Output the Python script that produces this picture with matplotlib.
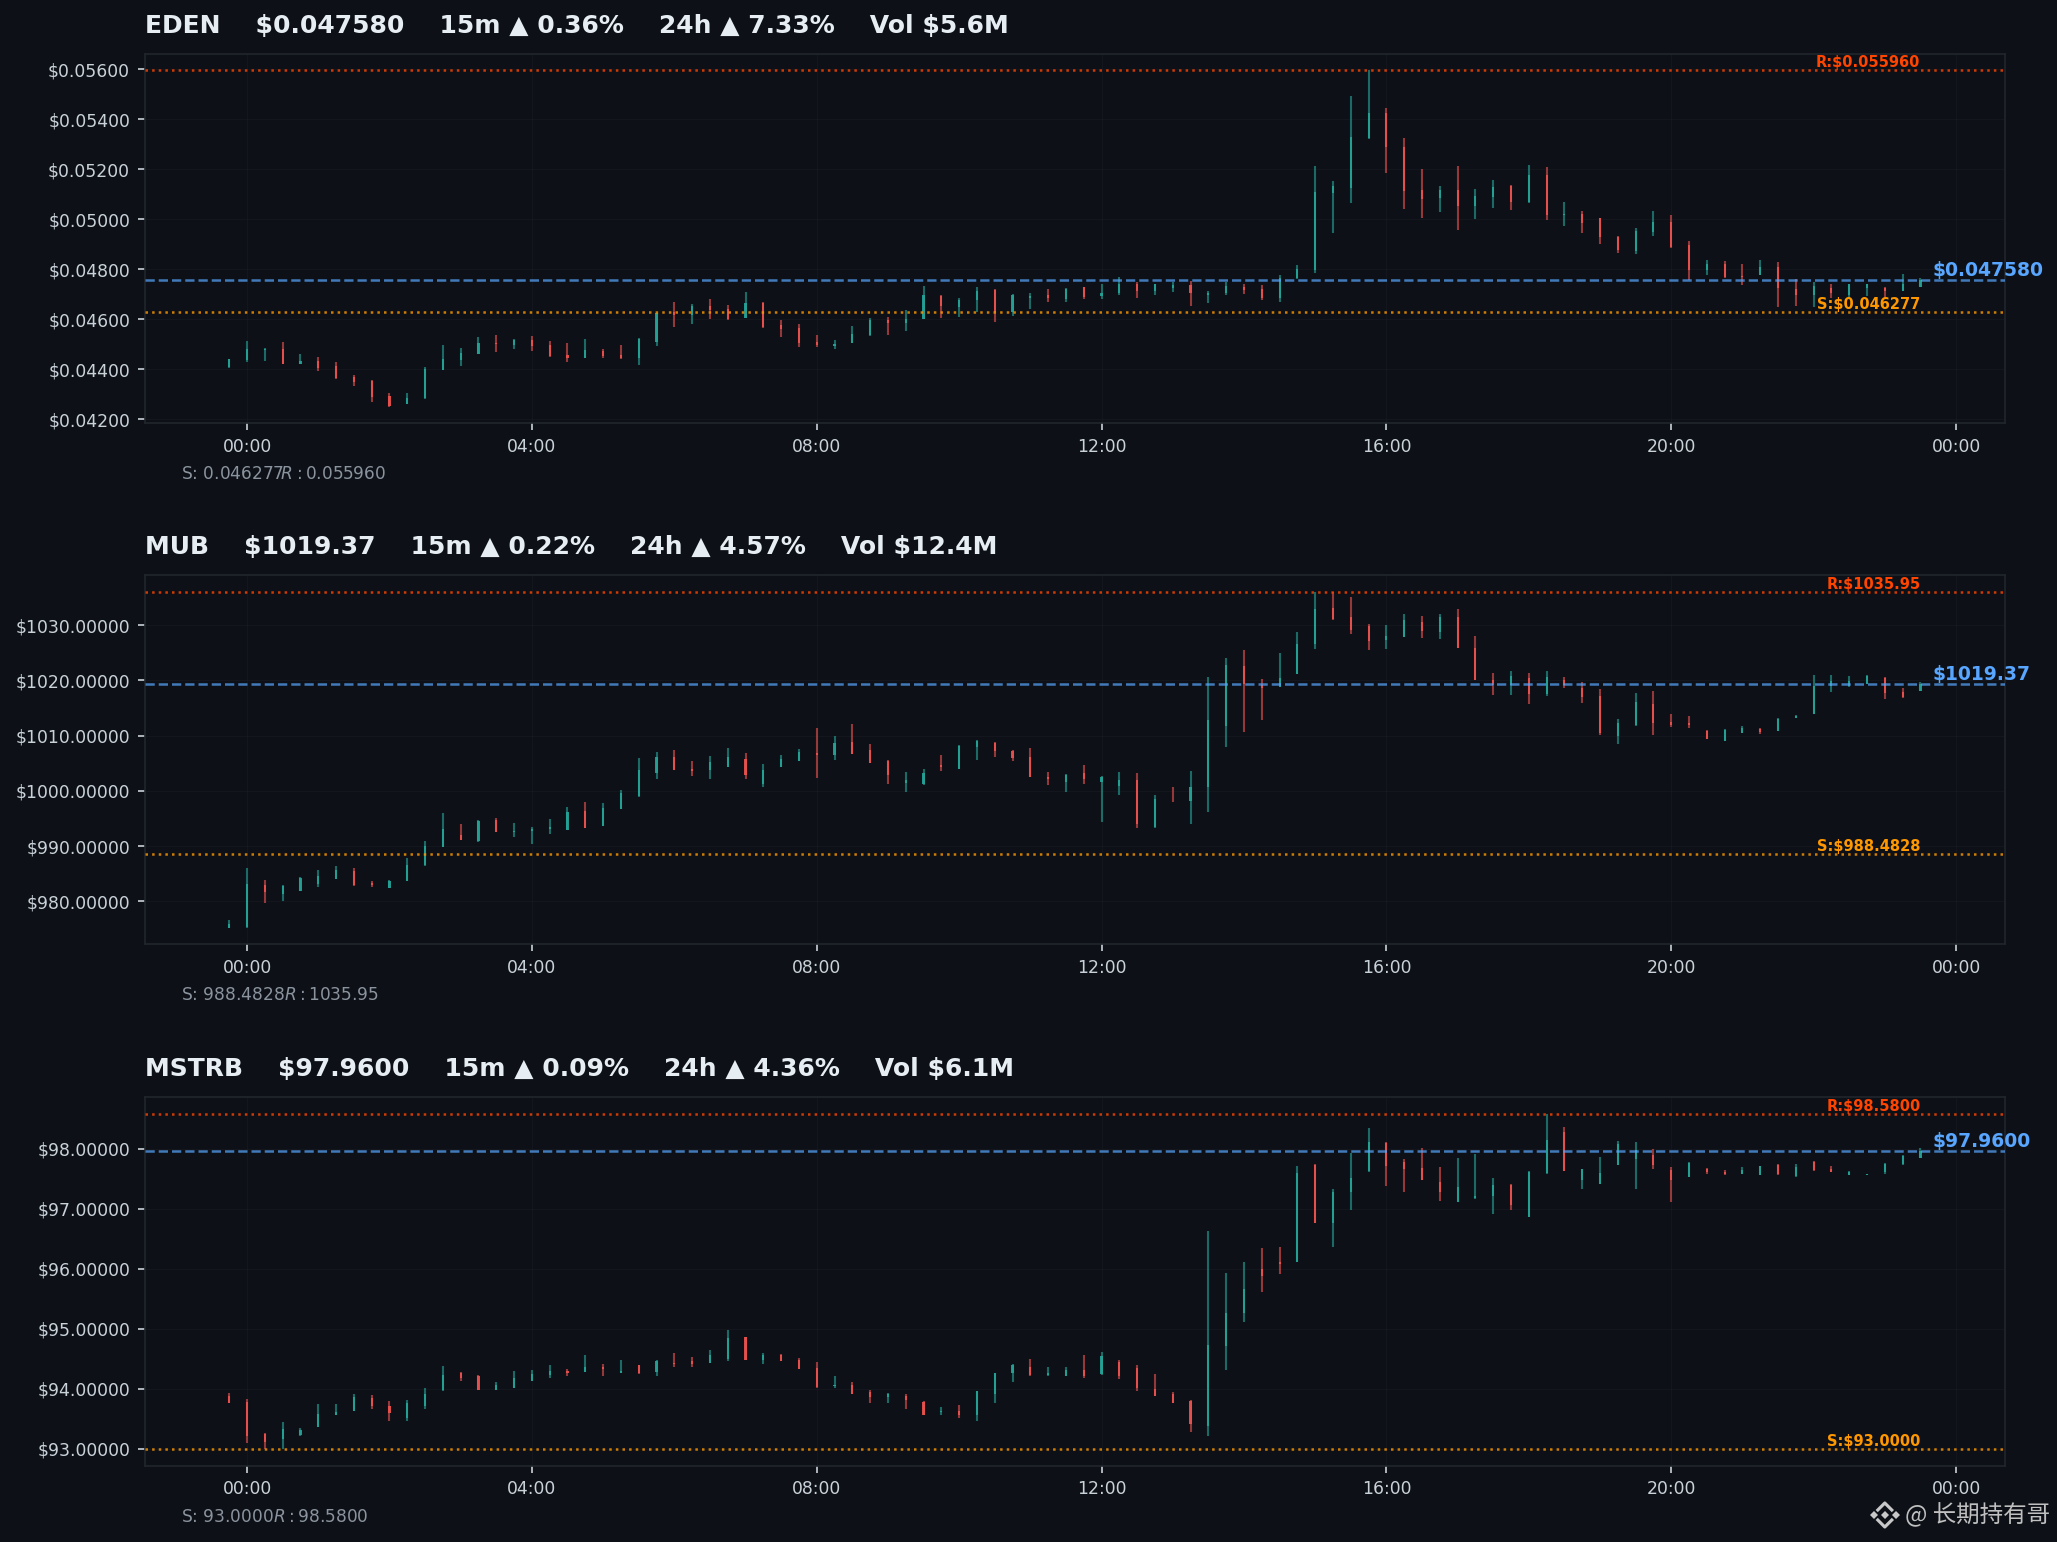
import matplotlib
matplotlib.use("Agg")
import matplotlib.pyplot as plt
import numpy as np
from matplotlib.lines import Line2D

BG = "#0d1117"
SPINE = "#21262d"
UP = "#26a69a"
DOWN = "#ef5350"
BLUE = "#58a6ff"
RES = "#ff4500"
SUP = "#ff9800"

# candle times, hours from midnight, 15m bars
hours = np.arange(96) * 0.25 - 0.25
xtick_pos = [0, 4, 8, 12, 16, 20, 24]
xtick_labels = ["00:00", "04:00", "08:00", "12:00", "16:00", "20:00", "00:00"]

# EDEN, in thousandths of a dollar
eden_high = np.array([
    44.43,45.12,44.84,45.08,44.60,44.48,44.28,43.76,43.59,43.04,43.04,44.08,
    44.96,44.84,45.28,45.36,45.20,45.32,45.12,45.04,45.20,44.80,44.96,45.24,
    46.23,46.68,46.60,46.80,46.56,47.08,46.68,45.96,45.80,45.36,45.16,45.72,
    46.04,46.08,46.36,47.32,46.96,46.84,47.28,47.20,47.00,47.04,47.20,47.24,
    47.28,47.40,47.68,47.48,47.40,47.48,47.52,47.12,47.48,47.40,47.36,47.76,
    48.16,52.12,51.52,54.92,55.96,54.44,53.24,52.00,51.32,52.12,51.20,51.56,
    51.36,52.16,52.08,50.68,50.32,50.04,49.32,49.64,50.32,50.16,49.12,48.36,
    48.32,48.20,48.36,48.28,47.60,47.48,47.40,47.40,47.40,47.28,47.80,47.64]) / 1000
eden_low = np.array([
    44.05,44.29,44.33,44.21,44.21,43.93,43.61,43.33,42.69,42.49,42.61,42.81,
    43.97,44.13,44.61,44.69,44.81,44.73,44.49,44.29,44.45,44.45,44.41,44.17,
    44.93,45.69,45.81,46.01,45.97,46.05,45.65,45.29,44.89,44.89,44.81,45.05,
    45.33,45.37,45.53,45.99,46.05,46.09,46.29,45.89,46.13,46.41,46.69,46.69,
    46.81,46.81,46.97,46.85,46.97,47.09,46.53,46.65,46.97,47.01,46.77,46.69,
    47.59,47.85,49.45,50.65,53.21,51.85,50.41,50.05,50.29,49.57,50.01,50.45,
    50.37,50.65,49.97,49.73,49.45,49.01,48.65,48.61,49.33,48.85,47.57,47.77,
    47.64,47.37,47.77,46.49,46.53,46.49,46.85,46.85,46.93,46.83,47.12,47.28]) / 1000
eden_open = np.array([
    44.09,44.36,44.76,44.80,44.21,44.32,44.12,43.68,43.52,42.92,42.61,42.84,
    43.97,44.36,44.61,45.05,44.96,45.16,44.96,44.56,44.45,44.72,44.56,44.45,
    45.09,46.29,46.16,46.52,46.40,46.05,46.64,45.76,45.64,45.08,44.92,45.05,
    45.36,45.96,45.84,45.99,46.92,46.48,46.76,47.16,46.29,46.85,46.96,46.79,
    47.28,46.92,47.04,47.40,47.12,47.23,47.36,46.97,47.04,47.28,47.20,46.85,
    47.63,47.95,51.04,51.25,53.25,54.24,52.88,51.16,50.84,51.16,50.53,50.89,
    51.33,50.68,51.76,50.17,50.20,50.04,49.28,48.73,49.48,49.88,48.96,47.97,
    48.20,47.72,47.77,48.08,47.20,46.96,47.24,46.96,47.23,47.24,47.12,47.28]) / 1000
eden_close = np.array([
    44.43,44.80,44.81,44.21,44.32,44.07,43.64,43.48,42.89,42.52,42.84,44.00,
    44.40,44.64,45.04,45.00,45.16,44.92,44.52,44.45,44.76,44.52,44.45,45.20,
    46.23,46.16,46.52,46.36,46.01,46.64,45.69,45.61,45.05,44.96,45.00,45.40,
    45.96,45.84,46.00,46.96,46.53,46.76,47.12,46.29,46.96,46.92,46.85,47.22,
    46.89,47.03,47.40,47.13,47.39,47.36,47.04,47.04,47.32,47.16,46.83,47.64,
    48.00,51.08,51.32,53.28,54.24,52.89,51.12,50.80,51.16,50.53,50.92,51.28,
    50.69,51.76,50.17,50.22,49.84,49.28,48.77,49.52,49.88,48.89,47.97,48.20,
    47.68,47.68,48.08,47.25,46.96,47.32,47.04,47.39,47.39,47.13,47.40,47.58]) / 1000

# MUB
mub_high = [
    976.56,985.98,983.80,982.90,984.35,985.62,986.34,985.98,983.62,983.80,987.79,990.87,
    995.94,993.95,994.67,995.04,994.13,993.41,994.86,997.03,997.94,997.75,1000.11,1005.91,
    1006.99,1007.36,1005.36,1006.27,1007.72,1006.81,1004.82,1006.45,1007.54,1011.34,1009.89,1012.07,
    1008.44,1005.54,1003.37,1003.91,1006.45,1008.26,1009.17,1008.81,1007.36,1007.72,1003.37,1003.01,
    1004.64,1002.65,1003.37,1003.19,999.20,1000.65,1003.55,1020.58,1024.02,1025.47,1020.22,1024.93,
    1028.73,1035.95,1035.95,1035.08,1030.18,1030.00,1032.00,1031.63,1032.00,1032.90,1028.01,1021.31,
    1021.67,1021.31,1021.67,1020.58,1019.68,1018.41,1012.97,1017.68,1018.05,1013.88,1013.52,1010.98,
    1011.16,1011.70,1011.34,1013.15,1013.70,1020.94,1020.94,1020.76,1020.94,1020.58,1018.59,1019.68]
mub_low = [
    975.17,975.17,979.70,980.06,981.87,982.60,983.99,982.78,982.60,982.42,983.62,986.40,
    989.84,991.11,990.75,992.56,991.66,990.39,992.20,992.92,993.29,993.65,996.73,998.90,
    1002.16,1003.79,1002.71,1002.16,1004.34,1002.16,1000.71,1004.34,1005.42,1002.34,1005.61,1006.69,
    1005.06,1001.26,999.81,1001.08,1003.61,1003.97,1005.61,1006.15,1005.42,1002.53,1001.08,999.81,
    1001.26,994.37,999.26,993.29,993.29,998.00,994.01,996.18,1007.96,1010.68,1012.85,1018.83,
    1021.19,1025.72,1030.97,1028.43,1025.53,1025.72,1027.89,1027.71,1027.53,1025.90,1020.10,1017.38,
    1017.38,1015.69,1017.20,1018.65,1015.93,1010.13,1008.50,1011.77,1010.13,1011.58,1011.40,1009.41,
    1009.05,1010.50,1010.32,1010.86,1013.21,1013.94,1017.92,1018.83,1019.37,1016.66,1016.84,1018.11]
mub_open = [
    975.23,975.29,982.90,981.33,981.87,983.14,984.05,985.44,983.26,982.48,983.68,986.52,
    989.84,991.96,990.93,994.67,992.50,992.68,993.04,992.92,996.31,993.65,996.73,999.02,
    1003.19,1006.09,1003.91,1003.73,1004.34,1005.73,1001.26,1004.34,1005.42,1006.93,1006.45,1008.81,
    1007.36,1005.36,1001.44,1001.26,1004.64,1003.97,1007.96,1008.62,1007.18,1006.09,1002.46,1001.56,
    1003.19,1001.62,1000.90,1001.92,993.41,998.60,998.12,1000.71,1011.77,1022.57,1019.13,1018.83,
    1021.19,1026.62,1033.08,1031.45,1029.82,1027.35,1027.89,1030.55,1028.73,1031.45,1025.84,1020.04,
    1019.13,1020.40,1017.50,1020.04,1018.59,1017.14,1009.95,1011.95,1015.69,1012.43,1012.25,1010.80,
    1009.05,1010.50,1011.16,1010.86,1013.21,1013.94,1018.95,1018.95,1019.37,1020.40,1017.86,1018.11]
mub_close = [
    975.95,983.08,981.69,982.72,984.29,984.53,985.62,982.90,982.90,983.62,986.52,989.96,
    993.04,991.11,994.55,992.56,992.80,993.04,993.41,996.12,993.29,996.85,999.57,1003.73,
    1006.09,1003.79,1003.55,1005.18,1006.09,1002.89,1003.73,1005.73,1006.99,1006.45,1008.62,1006.69,
    1005.06,1002.89,1001.92,1003.19,1004.34,1008.08,1009.05,1007.18,1005.97,1002.53,1002.16,1002.83,
    1002.10,1002.46,1001.92,994.01,998.60,998.48,1000.65,1012.79,1022.76,1019.31,1018.59,1020.40,
    1026.56,1032.90,1031.09,1029.10,1027.16,1028.01,1030.91,1028.92,1031.45,1025.90,1020.10,1019.25,
    1020.76,1017.50,1020.58,1019.13,1016.96,1010.50,1012.25,1016.05,1012.31,1012.01,1012.01,1009.41,
    1010.98,1011.34,1010.62,1013.09,1013.52,1018.95,1019.86,1019.86,1020.76,1017.68,1017.02,1019.37]

# MSTRB
mstrb_high = [
    93.93,93.83,93.27,93.45,93.35,93.75,93.75,93.92,93.90,93.80,93.82,94.02,
    94.38,94.28,94.23,94.12,94.30,94.32,94.40,94.33,94.57,94.42,94.48,94.40,
    94.48,94.60,94.53,94.65,94.98,94.87,94.60,94.58,94.52,94.45,94.22,94.12,
    93.98,93.93,93.92,93.80,93.70,93.73,93.97,94.27,94.42,94.50,94.37,94.37,
    94.57,94.62,94.48,94.40,94.25,93.95,93.82,96.63,95.93,96.12,96.35,96.37,
    97.72,97.75,97.33,97.93,98.35,98.12,97.83,98.02,97.70,97.85,97.92,97.52,
    97.42,97.63,98.58,98.37,97.67,97.87,98.13,98.12,98.00,97.70,97.78,97.68,
    97.65,97.70,97.72,97.75,97.75,97.80,97.72,97.63,97.58,97.77,97.90,98.02]
mstrb_low = [
    93.77,93.10,93.00,93.00,93.21,93.37,93.57,93.63,93.67,93.46,93.47,93.67,
    93.96,94.13,93.99,93.99,94.01,94.13,94.19,94.21,94.28,94.21,94.27,94.25,
    94.21,94.37,94.36,94.44,94.47,94.48,94.41,94.46,94.34,94.01,94.01,93.92,
    93.77,93.77,93.66,93.56,93.57,93.52,93.46,93.76,94.11,94.22,94.21,94.22,
    94.19,94.24,94.17,93.96,93.89,93.76,93.29,93.22,94.32,95.11,95.62,95.92,
    96.11,96.77,96.37,96.99,97.62,97.39,97.29,97.49,97.14,97.11,97.17,96.92,
    96.99,96.87,97.59,97.64,97.34,97.41,97.74,97.34,97.67,97.12,97.54,97.59,
    97.56,97.59,97.56,97.57,97.54,97.64,97.61,97.56,97.57,97.59,97.74,97.85]
mstrb_open = [
    93.88,93.78,93.25,93.16,93.23,93.37,93.57,93.64,93.85,93.72,93.51,93.72,
    93.98,94.27,94.22,93.99,94.02,94.13,94.23,94.29,94.28,94.37,94.27,94.39,
    94.29,94.43,94.47,94.44,94.50,94.86,94.48,94.57,94.48,94.35,94.05,94.07,
    93.95,93.87,93.88,93.78,93.62,93.63,93.57,93.91,94.26,94.37,94.24,94.22,
    94.32,94.25,94.45,94.35,94.00,93.92,93.80,93.39,94.72,95.26,96.00,96.12,
    96.11,97.73,96.77,97.28,97.63,98.10,97.78,97.68,97.45,97.11,97.18,97.21,
    97.40,96.87,97.60,98.28,97.48,97.42,97.74,97.84,97.90,97.65,97.54,97.67,
    97.62,97.59,97.56,97.74,97.55,97.78,97.67,97.56,97.57,97.62,97.75,97.85]
mstrb_close = [
    93.77,93.22,93.12,93.33,93.32,93.58,93.62,93.87,93.71,93.60,93.77,93.92,
    94.23,94.19,93.99,94.07,94.18,94.25,94.30,94.26,94.37,94.33,94.30,94.26,
    94.47,94.41,94.42,94.57,94.85,94.49,94.57,94.47,94.34,94.04,94.07,93.92,
    93.87,93.92,93.81,93.57,93.63,93.57,93.96,94.26,94.40,94.23,94.27,94.31,
    94.22,94.55,94.21,94.01,93.89,93.77,93.41,94.73,95.27,95.67,95.89,96.09,
    97.60,96.77,97.28,97.52,98.12,97.72,97.67,97.49,97.28,97.37,97.22,97.40,
    97.06,97.62,98.15,97.64,97.66,97.60,98.08,97.98,97.74,97.48,97.77,97.62,
    97.58,97.65,97.71,97.58,97.70,97.65,97.62,97.62,97.58,97.75,97.88,97.96]

eden_ticks = [0.042, 0.044, 0.046, 0.048, 0.050, 0.052, 0.054, 0.056]
mub_ticks = [980, 990, 1000, 1010, 1020, 1030]
mstrb_ticks = [93, 94, 95, 96, 97, 98]

panels = [
    dict(title=r"EDEN    \$0.047580    15m ▲ 0.36%    24h ▲ 7.33%    Vol \$5.6M",
         o=eden_open, h=eden_high, l=eden_low, c=eden_close, ticks=eden_ticks, ylim=(0.041853, 0.0566),
         price=0.04758, sup=0.046277, res=0.05596, price_txt=r"\$0.047580",
         sup_txt=r"S:\$0.046277", res_txt=r"R:\$0.055960", note="S: $0.046277  R: $0.055960"),
    dict(title=r"MUB    \$1019.37    15m ▲ 0.22%    24h ▲ 4.57%    Vol \$12.4M",
         o=mub_open, h=mub_high, l=mub_low, c=mub_close, ticks=mub_ticks, ylim=(972.27, 1039.1),
         price=1019.37, sup=988.4828, res=1035.95, price_txt=r"\$1019.37",
         sup_txt=r"S:\$988.4828", res_txt=r"R:\$1035.95", note="S: $988.4828  R: $1035.95"),
    dict(title=r"MSTRB    \$97.9600    15m ▲ 0.09%    24h ▲ 4.36%    Vol \$6.1M",
         o=mstrb_open, h=mstrb_high, l=mstrb_low, c=mstrb_close, ticks=mstrb_ticks, ylim=(92.72, 98.87),
         price=97.96, sup=93.0, res=98.58, price_txt=r"\$97.9600",
         sup_txt=r"S:\$93.0000", res_txt=r"R:\$98.5800", note="S: $93.0000  R: $98.5800"),
]

W, H = 2057, 1542
fig = plt.figure(figsize=(W / 150, H / 150), dpi=150, facecolor=BG)
tops = [54, 575, 1096.7]
ax_h = 369

for p, top in zip(panels, tops):
    ax = fig.add_axes([144.7 / W, 1 - (top + ax_h) / H, 1860.3 / W, ax_h / H], facecolor=BG)
    o, c = np.array(p["o"]), np.array(p["c"])
    cols = [UP if b >= a else DOWN for a, b in zip(o, c)]
    ax.vlines(hours, p["l"], p["h"], colors=cols, linewidth=1.0, alpha=0.6, zorder=2)
    ax.bar(hours, np.abs(c - o), bottom=np.minimum(o, c), width=0.03, color=cols, linewidth=0, zorder=3, alpha=0.9)

    ax.axhline(p["res"], color=RES, linestyle=":", linewidth=1.2, alpha=0.8, zorder=4)
    ax.axhline(p["sup"], color=SUP, linestyle=":", linewidth=1.2, alpha=0.8, zorder=4)
    ax.axhline(p["price"], color=BLUE, linestyle="--", linewidth=1.2, alpha=0.7, zorder=4)
    ax.text(hours[-1], p["res"], p["res_txt"], color=RES, fontsize=7, fontweight="bold", ha="right", va="bottom", zorder=5)
    ax.text(hours[-1], p["sup"], p["sup_txt"], color=SUP, fontsize=7, fontweight="bold", ha="right", va="bottom", zorder=5)
    ax.text(hours[-1] + 0.17, p["price"], p["price_txt"], color=BLUE, fontsize=9, fontweight="bold", ha="left", va="bottom", zorder=5)

    ax.set_xlim(-1.4375, 24.6875)
    ax.set_ylim(*p["ylim"])
    ax.set_xticks(xtick_pos)
    ax.set_xticklabels(xtick_labels)
    ax.set_yticks(p["ticks"])
    ax.set_yticklabels(["$%.5f" % t for t in p["ticks"]])
    ax.tick_params(colors="#c9d1d9", labelsize=8.3)
    ax.grid(True, color="#21262d", linewidth=0.5, alpha=0.3)
    ax.set_axisbelow(True)
    for s in ax.spines.values():
        s.set_color(SPINE)
    ax.set_title(p["title"], loc="left", color="#e6edf3", fontsize=12, fontweight="bold", pad=10)
    ax.text(0.0195, -0.138, p["note"], transform=ax.transAxes, color="#8b949e", fontsize=8.2, va="center", ha="left")

# watermark: the small logo and the handle
logo_x, logo_y = 1884.8, H - 1515
for dx, dy in [(11, 0), (-11, 0), (0, 0)]:
    fig.add_artist(Line2D([(logo_x + dx) / W], [(logo_y + dy) / H], marker="D", markersize=2.6, color="#c8c8c8",
                          markeredgewidth=0, linestyle="none", transform=fig.transFigure))
for sign in (1, -1):
    xs = [(logo_x + d) / W for d in (-7, 0, 7)]
    ys = [(logo_y + sign * d) / H for d in (5, 12, 5)]
    fig.add_artist(Line2D(xs, ys, color="#c8c8c8", linewidth=1.5, transform=fig.transFigure))
fig.text(1905 / W, 1 - 1515 / H, "@ 长期持有哥", color="#c0c0c0", fontsize=11.3, va="center", ha="left",
         family=["Noto Sans CJK SC", "DejaVu Sans"])

fig.savefig("out.png", dpi=150, facecolor=BG)
